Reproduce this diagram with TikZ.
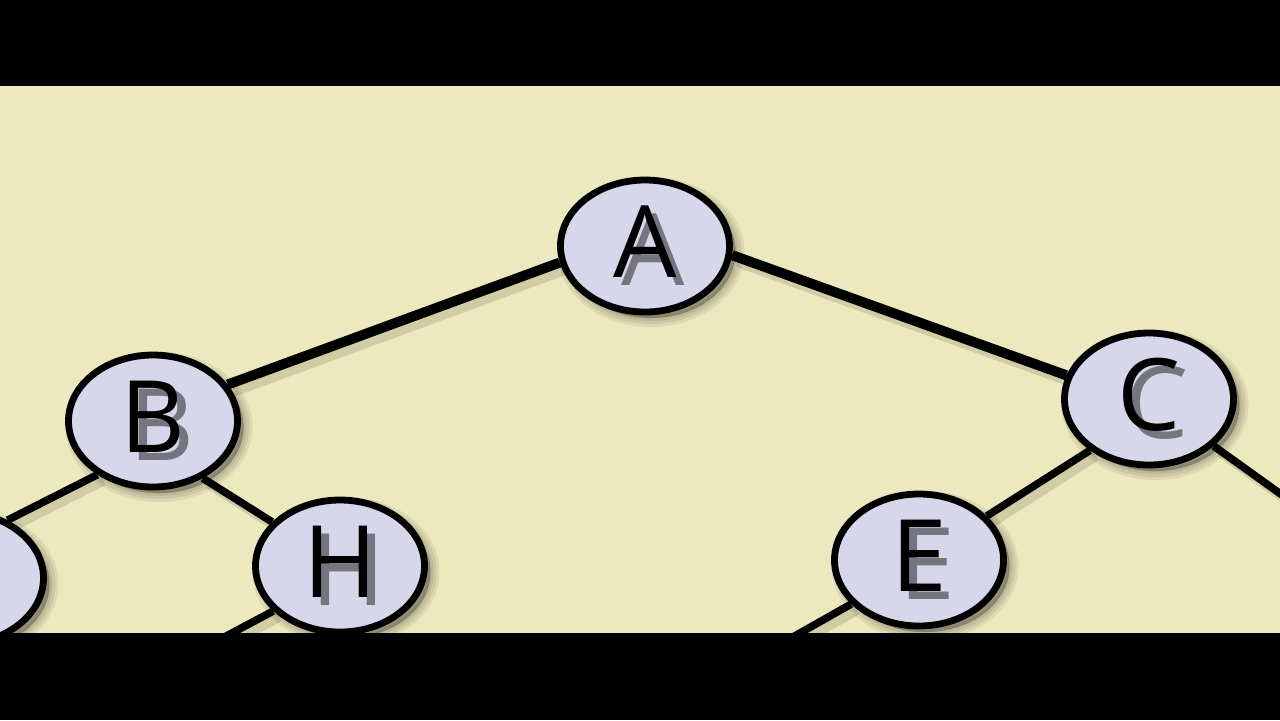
\documentclass[tikz,border=0pt]{standalone}
\usepackage{fontspec}
\setmainfont{Open Sans}
\usetikzlibrary{shapes.geometric}
\pgfdeclarelayer{bgl}\pgfdeclarelayer{edgel}\pgfdeclarelayer{frontl}
\pgfsetlayers{bgl,edgel,main,frontl}
\definecolor{paper}{HTML}{EDE9BE}
\definecolor{nodefill}{HTML}{D6D7EA}
\definecolor{txtshadow}{HTML}{75757F}
\newcommand\shadowed[1]{\makebox[0pt][l]{\hspace{4.2pt}\raisebox{-4pt}{\color{txtshadow}#1}}#1}
\tikzset{
  softshadow/.style={preaction={draw=black, line width=#1, fill=black, opacity=0.07,
    transform canvas={shift={(3pt,-3pt)}}}},
  vertex/.style={ellipse, draw=black, line width=3.4pt, fill=nodefill,
    minimum width=84.5pt, minimum height=66pt, inner sep=0pt,
    font=\fontsize{50}{50}\selectfont,
    softshadow=9pt, softshadow=6pt, softshadow=3pt, softshadow=0.5pt},
  thickedge/.style={line width=5pt, line cap=butt,
    preaction={draw=black, line width=6pt, opacity=0.12, transform canvas={shift={(3pt,-3pt)}}}},
  thinedge/.style={line width=3.8pt, line cap=butt,
    preaction={draw=black, line width=4.8pt, opacity=0.12, transform canvas={shift={(3pt,-3pt)}}}},
}
\begin{document}
\begin{tikzpicture}[x=0.5pt,y=-0.5pt]
\useasboundingbox (0,0) rectangle (1280,720);
\begin{pgfonlayer}{bgl}
  \fill[paper] (0,0) rectangle (1280,720);
\end{pgfonlayer}
% nodes
\node[vertex] (A) at (645,246) {\shadowed{A}};
\node[vertex] (B) at (153,421) {\shadowed{B}};
\node[vertex] (C) at (1149,399) {\shadowed{C}};
\node[vertex] (H) at (340,566) {\shadowed{H}};
\node[vertex] (E) at (919,560) {\shadowed{E}};
\node[vertex] (L) at (-41,578) {};
% free ends of edges leaving the frame
\coordinate (Cout) at (1310,515);
\coordinate (Hout) at (200,650);
\coordinate (Eout) at (770,650);
\begin{pgfonlayer}{edgel}
  \draw[thickedge] (A.191) -- (B.26);
  \draw[thickedge] (A.-6) -- (C.164);
  \draw[thinedge] (B.224) -- (L.50);
  \draw[thinedge] (B.-49) -- (H.147);
  \draw[thinedge] (C.221) -- (E.33);
  \draw[thinedge] (C.-36) -- (Cout);
  \draw[thinedge] (H.214) -- (Hout);
  \draw[thinedge] (E.213) -- (Eout);
\end{pgfonlayer}
\begin{pgfonlayer}{frontl}
  \fill[black] (0,0) rectangle (1280,86);
  \fill[black] (0,633) rectangle (1280,720);
\end{pgfonlayer}
\end{tikzpicture}
\end{document}
